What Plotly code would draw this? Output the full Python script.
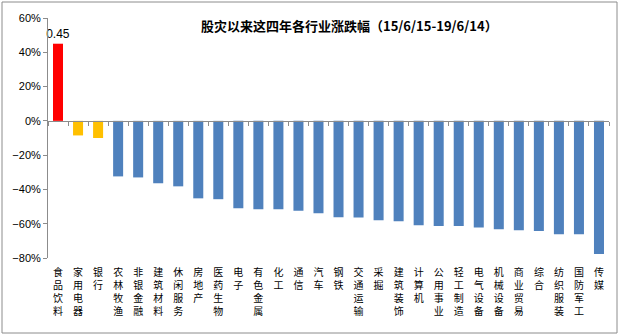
import plotly.graph_objects as go

categories = ["食品饮料", "家用电器", "银行", "农林牧渔", "非银金融", "建筑材料", "休闲服务",
              "房地产", "医药生物", "电子", "有色金属", "化工", "通信", "汽车", "钢铁",
              "交通运输", "采掘", "建筑装饰", "计算机", "公用事业", "轻工制造", "电气设备",
              "机械设备", "商业贸易", "综合", "纺织服装", "国防军工", "传媒"]
values = [0.45, -0.085, -0.10, -0.324, -0.33, -0.364, -0.382, -0.452, -0.457, -0.51,
          -0.516, -0.516, -0.525, -0.539, -0.562, -0.564, -0.58, -0.585, -0.609, -0.614,
          -0.614, -0.622, -0.632, -0.638, -0.643, -0.661, -0.661, -0.777]
colors = ["#FF0000", "#FFC000", "#FFC000"] + ["#4F81BD"] * 25
bar_text = [f"{values[0]:.2f}"] + [""] * 27
title_text = "股灾以来这四年各行业涨跌幅（15/6/15-19/6/14）"

vertical_labels = ["<br>".join(list(c)) for c in categories]
pct = [v * 100 for v in values]
n = len(categories)

font_family = "Liberation Sans, Noto Sans CJK SC, sans-serif"

fig = go.Figure()
fig.add_trace(go.Bar(
    x=vertical_labels, y=pct, marker=dict(color=colors, line=dict(width=0)),
    text=bar_text, textposition="outside", cliponaxis=False, constraintext="none",
    textfont=dict(size=12, color="#000000", family=font_family),
    hoverinfo="skip", width=0.5,
))
# helper trace for the zero-line category axis
fig.add_trace(go.Scatter(
    x=vertical_labels, y=[0] * n, xaxis="x2", mode="lines",
    line=dict(width=0), hoverinfo="skip", showlegend=False,
))

fig.update_layout(
    width=619, height=336,
    margin=dict(l=48, r=10, t=18, b=78),
    paper_bgcolor="white", plot_bgcolor="white",
    showlegend=False,
    font=dict(family=font_family, color="#000000"),
    xaxis=dict(
        range=[-0.5, n - 0.5],
        showline=False, ticks="", showgrid=False, zeroline=False,
        tickfont=dict(size=10, family="Noto Sans CJK SC, sans-serif"),
        tickangle=0, ticklabelstandoff=7,
    ),
    xaxis2=dict(
        overlaying="x", anchor="free", position=80 / 140, side="bottom",
        range=[-0.5, n - 0.5],
        showline=True, linecolor="#8C8C8C", linewidth=1,
        ticks="outside", ticklen=4, tickcolor="#8C8C8C", tickson="boundaries",
        showticklabels=False, showgrid=False, zeroline=False,
    ),
    yaxis=dict(
        range=[-80, 60], dtick=20, ticksuffix="%",
        showline=True, linecolor="#8C8C8C", linewidth=1,
        ticks="outside", ticklen=4, tickcolor="#8C8C8C",
        showgrid=False, zeroline=False,
        tickfont=dict(size=11, color="#000000"),
    ),
    annotations=[dict(
        text="<b>" + title_text + "</b>", xref="paper", yref="paper",
        x=0.538, y=0.967, xanchor="center", yanchor="middle", showarrow=False,
        font=dict(size=13, family="Noto Sans CJK SC, sans-serif", color="#000000"),
    )],
    shapes=[dict(
        type="rect", xref="paper", yref="paper",
        x0=(2 - 48) / 561, x1=(617 - 48) / 561,
        y0=(258 - 333) / 240, y1=(258 - 2) / 240,
        line=dict(color="#8C8C8C", width=1), fillcolor="rgba(0,0,0,0)", layer="below",
    )],
)

fig.write_html("out.html")
